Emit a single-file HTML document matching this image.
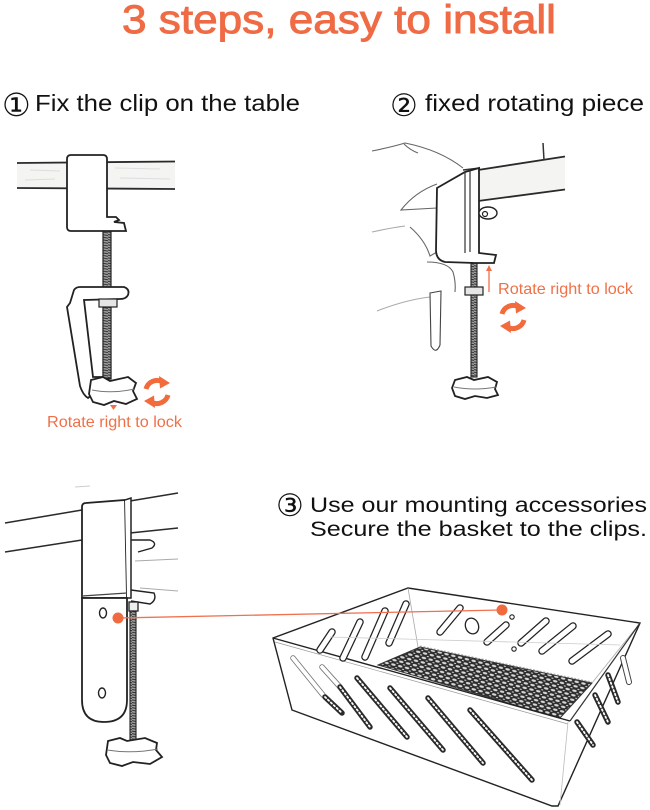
<!DOCTYPE html>
<html><head><meta charset="utf-8"><style>
html,body{margin:0;padding:0;background:#fff;}
svg{display:block;}
text{font-family:"Liberation Sans","DejaVu Sans",sans-serif;}
.c{font-family:"DejaVu Sans","Liberation Sans",sans-serif;}
</style></head><body>
<svg width="650" height="810" viewBox="0 0 650 810" xmlns="http://www.w3.org/2000/svg">
<defs>
<pattern id="thr" width="6" height="2.6" patternUnits="userSpaceOnUse"><rect width="6" height="2.6" fill="#a0a0a0"/><line x1="0" y1="0.5" x2="6" y2="1.6" stroke="#2a2a2a" stroke-width="1"/></pattern>
<pattern id="mesh" width="7" height="4.6" patternUnits="userSpaceOnUse" patternTransform="rotate(14)"><rect width="7" height="4.6" fill="#2b2b2b"/><ellipse cx="3.5" cy="2.3" rx="2.3" ry="1.1" fill="#d8d8d8"/><ellipse cx="0" cy="0" rx="1.2" ry="0.6" fill="#d8d8d8"/><ellipse cx="7" cy="0" rx="1.2" ry="0.6" fill="#d8d8d8"/><ellipse cx="0" cy="4.6" rx="1.2" ry="0.6" fill="#d8d8d8"/><ellipse cx="7" cy="4.6" rx="1.2" ry="0.6" fill="#d8d8d8"/></pattern>
<g id="rot">
<path d="M-11,-3 A11.5,11.5 0 0 1 5,-10.5" fill="none" stroke="#F26B3D" stroke-width="5"/>
<polygon points="2,-16 13,-9 3,-3.5" fill="#F26B3D"/>
<path d="M11,3 A11.5,11.5 0 0 1 -5,10.5" fill="none" stroke="#F26B3D" stroke-width="5"/>
<polygon points="-2,16 -13,9 -3,3.5" fill="#F26B3D"/>
</g>
</defs>
<rect width="650" height="810" fill="#fff"/>

<!-- Title -->
<text x="122" y="33" font-size="40" fill="#EF6B45" stroke="#EF6B45" stroke-width="0.9" textLength="434" lengthAdjust="spacingAndGlyphs">3 steps, easy to install</text>

<!-- subheads -->
<text class="c" x="2" y="116" font-size="32" fill="#111">①</text>
<text x="35" y="111" font-size="23" fill="#111" textLength="265" lengthAdjust="spacingAndGlyphs">Fix the clip on the table</text>
<text class="c" x="390" y="116" font-size="31" fill="#111">②</text>
<text x="425" y="111" font-size="23" fill="#111" textLength="219" lengthAdjust="spacingAndGlyphs">fixed rotating piece</text>

<text class="c" x="276" y="516" font-size="31" fill="#111">③</text>
<text x="310" y="512" font-size="21" fill="#111" textLength="337" lengthAdjust="spacingAndGlyphs">Use our mounting accessories</text>
<text x="310" y="536" font-size="21" fill="#111" textLength="337" lengthAdjust="spacingAndGlyphs">Secure the basket to the clips.</text>

<!-- ============ STEP 1 ============ -->
<rect x="17" y="162" width="158" height="26" fill="#f4f4f2"/>
<path d="M30,170 L60,171 M115,168 L160,169 M25,180 L55,179 M120,178 L170,179" stroke="#ddd" stroke-width="1"/>
<path d="M17,163 L175,161.5" stroke="#2a2a2a" stroke-width="1.8" fill="none"/>
<path d="M17,188 L175,189" stroke="#2a2a2a" stroke-width="1.8" fill="none"/>
<rect x="103" y="231" width="8" height="148" fill="url(#thr)" stroke="#222" stroke-width="1.2"/>
<path d="M67,159 Q67,155 71,155 L103,155 Q107,155 107,159 L107,217 L116,217 L119,220 L114,222 L124,223 L126,231 L71,231 Q67,231 67,227 Z" fill="#fff" stroke="#222" stroke-width="1.8"/>
<path d="M70,303 L74,290 Q76,287 80,287 L124,287 Q130,289 128,295 Q126,299 120,299 L84,300 L93,377 L103,377 L103,386 L88,398 Q83,395 80,386 L67,307 Z" fill="#fff" stroke="#222" stroke-width="1.8"/>
<rect x="103" y="300" width="8" height="78" fill="url(#thr)" stroke="#222" stroke-width="1.1"/>
<rect x="99" y="299" width="18" height="8" fill="#e6e6e6" stroke="#222" stroke-width="1.2"/>
<path d="M91,380 L103,377 L110,381 L128,377 L136,383 L133,391 L137,399 L126,404 L114,401 L104,405 L93,402 L89,394 Z" fill="#fff" stroke="#222" stroke-width="1.8"/>
<path d="M92,390 Q112,394 134,389" fill="none" stroke="#777" stroke-width="1"/>
<polygon points="110,405 117,405 113.5,410" fill="#F07048"/>
<use href="#rot" transform="translate(157,392)"/>
<text x="47" y="427" font-size="16" fill="#F07048" textLength="135" lengthAdjust="spacingAndGlyphs">Rotate right to lock</text>

<!-- ============ STEP 2 ============ -->
<g fill="none" stroke="#666" stroke-width="1.1">
<path d="M372,151 Q392,147 405,143 Q440,150 463,168"/>
<path d="M404,144 Q410,150 418,153"/>
<path d="M437,184 Q415,192 401,210 L437,208"/>
<path d="M410,227 Q425,240 430,256 L437,252"/>
<path d="M427,262 Q448,262 453,272 Q456,282 455,292"/>
<path d="M377,311 Q405,300 430,297" stroke="#aaa"/>
<path d="M372,232 Q390,228 405,226" stroke="#aaa"/>
<path d="M430,293 L441,291 L440,345 Q436,355 431,346 Z" stroke="#444"/>
</g>
<polygon points="478,170 565,157 565,190 478,201" fill="#f4f4f2"/>
<path d="M478,170 L565,156.5 M478,201 L565,189.5" stroke="#2a2a2a" stroke-width="1.8" fill="none"/>
<path d="M543,143 L544,160" stroke="#333" stroke-width="1.5"/>
<path d="M463,170 L480,168" stroke="#333" stroke-width="1.5"/>
<rect x="471" y="262" width="6" height="115" fill="url(#thr)" stroke="#222" stroke-width="1.1"/>
<path d="M437,188 L465,172 L479,168 L479,253 L496,255 L494,263 L475,263 L445,262 Q436,260 436,250 Z" fill="#fff" stroke="#222" stroke-width="1.8"/>
<path d="M465,172 L465,253 M470,170 L470,252" stroke="#333" stroke-width="1.2" fill="none"/>
<ellipse cx="488" cy="213" rx="9" ry="6" fill="#fff" stroke="#222" stroke-width="1.4"/>
<circle cx="485" cy="214" r="2.5" fill="none" stroke="#222" stroke-width="1.2"/>
<rect x="465" y="287" width="18" height="8" fill="#e6e6e6" stroke="#222" stroke-width="1.2"/>
<path d="M455,380 L467,377 L474,380 L488,377 L497,382 L495,389 L498,395 L487,398 L475,396 L465,399 L455,396 L452,388 Z" fill="#fff" stroke="#222" stroke-width="1.8"/>
<path d="M454,387 Q475,391 496,387" fill="none" stroke="#777" stroke-width="1"/>
<path d="M489,292 L489,270" stroke="#F07048" stroke-width="1.3"/>
<polygon points="486,271 492,271 489,265" fill="#F07048"/>
<use href="#rot" transform="translate(513,317)"/>
<text x="498" y="294" font-size="16" fill="#F07048" textLength="135" lengthAdjust="spacingAndGlyphs">Rotate right to lock</text>

<!-- ============ STEP 3 CLIP ============ -->
<path d="M5,523 L82,510 M130,501 L178,493 M5,552 L82,540 M130,533 L178,528" stroke="#2a2a2a" stroke-width="1.5" fill="none"/>
<path d="M135,561 L178,559 M140,588 L178,591" stroke="#aaa" stroke-width="1" fill="none"/>
<path d="M75,487 L90,486" stroke="#ccc" stroke-width="1"/>
<rect x="130" y="610" width="6" height="130" fill="url(#thr)" stroke="#222" stroke-width="1.1"/>
<path d="M82,507 Q82,503 86,503 L125,500 L127,598 L82,598 Z" fill="#fff" stroke="#222" stroke-width="1.8"/>
<path d="M125,500 L131,498 L131,598 L127,598" fill="#fff" stroke="#222" stroke-width="1.5"/>
<path d="M131,540 L150,540 Q158,543 152,548 L138,552 M131,590 L154,593 Q157,600 150,604 L131,601" fill="none" stroke="#222" stroke-width="1.4"/>
<path d="M82,598 L82,700 Q82,722 104,722 Q127,722 127,700 L127,598 Z" fill="#fff" stroke="#222" stroke-width="1.8"/>
<path d="M82,596 L127,593" stroke="#444" stroke-width="1.2"/>
<ellipse cx="103" cy="613" rx="3.5" ry="5" fill="none" stroke="#222" stroke-width="1.4"/>
<ellipse cx="102" cy="693" rx="3.5" ry="5" fill="none" stroke="#222" stroke-width="1.4"/>
<rect x="129" y="602" width="9" height="9" fill="#eee" stroke="#222" stroke-width="1.3"/>
<path d="M108,741 L120,738 L127,741 L145,738 L157,743 L156,750 L162,757 L150,764 L133,762 L122,766 L110,763 L106,755 Z" fill="#fff" stroke="#222" stroke-width="1.8"/>
<path d="M107,750 Q132,754 158,749" fill="none" stroke="#777" stroke-width="1"/>

<!-- ============ BASKET ============ -->
<polygon points="273,638 408,588 640,623 558,806 552,806 292,710" fill="#fff" stroke="#222" stroke-width="1.4"/>
<polygon points="378,665 420,647 592,683 560,718" fill="url(#mesh)" stroke="#333" stroke-width="1"/>
<path d="M408,588 L418,647 M640,623 L592,683" stroke="#aaa" stroke-width="0.8" fill="none"/>
<path d="M420,646 L592,682" stroke="#aaa" stroke-width="1" fill="none" stroke-dasharray="2 1.5"/>
<path d="M273,638 L570,721" stroke="#222" stroke-width="1.4" fill="none"/>
<path d="M275,642 L568,724" stroke="#999" stroke-width="0.7" fill="none"/>
<path d="M570,721 L640,623" stroke="#333" stroke-width="1.2" fill="none"/>
<path d="M568,722 L560,805" stroke="#bbb" stroke-width="0.8" fill="none"/>
<!-- wall slots -->
<g stroke-linecap="round" fill="none">
<g stroke="#222" stroke-width="7.5">
<path d="M320,650 L332,632"/><path d="M343,658 L360,622"/><path d="M365,657 L385,611"/><path d="M389,643 L406,604"/>
<path d="M440,632 L460,608"/><path d="M487,642 L506,625"/><path d="M521,643 L546,621"/><path d="M542,651 L573,626"/><path d="M572,661 L608,634"/>
</g>
<g stroke="#fff" stroke-width="5">
<path d="M320,650 L332,632"/><path d="M343,658 L360,622"/><path d="M365,657 L385,611"/><path d="M389,643 L406,604"/>
<path d="M440,632 L460,608"/><path d="M487,642 L506,625"/><path d="M521,643 L546,621"/><path d="M542,651 L573,626"/><path d="M572,661 L608,634"/>
</g>
</g>
<ellipse cx="472" cy="626" rx="6.5" ry="8" transform="rotate(-20 472 626)" fill="none" stroke="#222" stroke-width="1.3"/>
<circle cx="512" cy="617" r="2.2" fill="none" stroke="#222" stroke-width="1.1"/>
<circle cx="514" cy="649" r="2.2" fill="none" stroke="#222" stroke-width="1.1"/>
<path d="M330,637 L620,645" stroke="#ccc" stroke-width="0.8" fill="none"/>
<!-- front outlined slot parts -->
<g stroke-linecap="round" fill="none">
<path d="M293,658 L323,695" stroke="#777" stroke-width="5.5"/>
<path d="M293,658 L323,695" stroke="#fff" stroke-width="3.8"/>
<path d="M322,667 L340,687" stroke="#777" stroke-width="5.5"/>
<path d="M322,667 L340,687" stroke="#fff" stroke-width="3.8"/>
<path d="M623,658 L629,682" stroke="#444" stroke-width="6"/>
<path d="M623,658 L629,682" stroke="#fff" stroke-width="4"/>
</g>
<!-- chain slots -->
<g stroke-linecap="round" fill="none">
<g stroke="#2a2a2a" stroke-width="5.5">
<path d="M325,697 L342,713"/><path d="M340,687 L370,727"/><path d="M357,678 L407,737"/><path d="M390,688 L443,750"/><path d="M428,698 L483,763"/><path d="M470,710 L532,780"/>
<path d="M577,722 L593,745"/><path d="M595,695 L608,722"/><path d="M608,675 L618,702"/>
</g>
<g stroke="#fff" stroke-width="1.8" stroke-dasharray="1.5 2.5">
<path d="M325,697 L342,713"/><path d="M340,687 L370,727"/><path d="M357,678 L407,737"/><path d="M390,688 L443,750"/><path d="M428,698 L483,763"/><path d="M470,710 L532,780"/>
<path d="M577,722 L593,745"/><path d="M595,695 L608,722"/><path d="M608,675 L618,702"/>
</g>
</g>

<!-- connector -->
<path d="M118,618 L502,610" stroke="#F07050" stroke-width="1.3" fill="none"/>
<circle cx="118" cy="618" r="5.5" fill="#F06A40"/>
<circle cx="502" cy="610" r="5.5" fill="#F06A40"/>
</svg>
</body></html>
